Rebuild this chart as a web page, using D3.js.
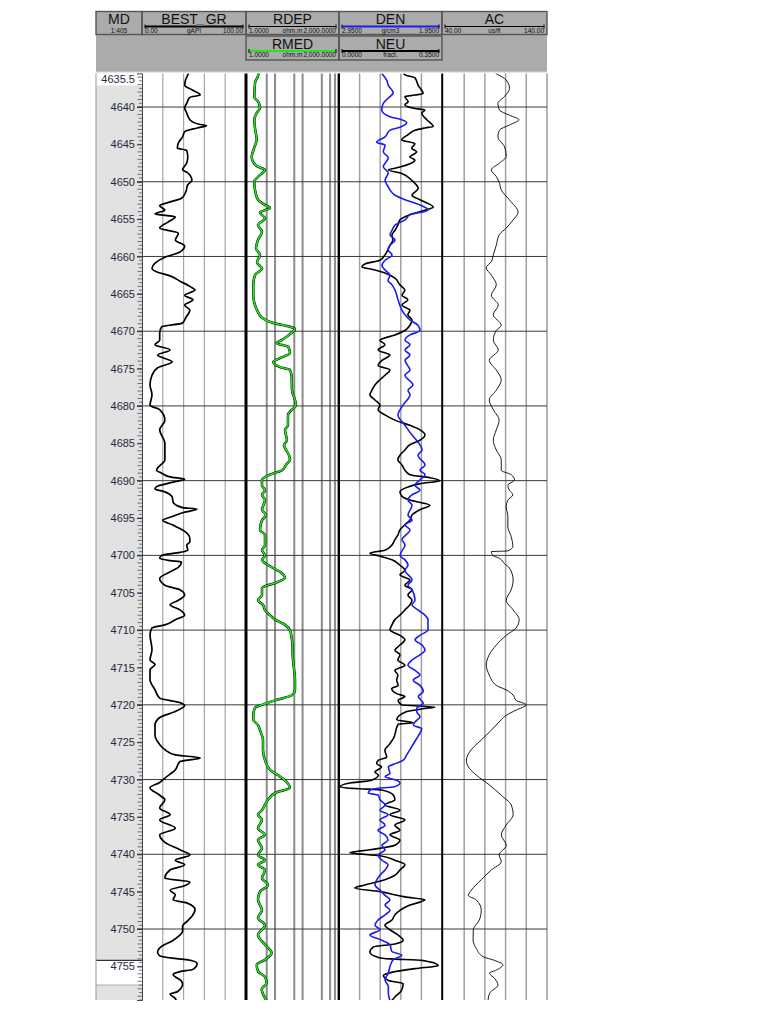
<!DOCTYPE html>
<html>
<head>
<meta charset="utf-8">
<script src="https://cdn.jsdelivr.net/npm/d3@7"></script>
<style>
  body { margin: 0; background: #fff; }
  svg { display: block; }
  text { font-family: "Liberation Sans", Arial, sans-serif; }
</style>
</head>
<body>
<svg id="LogPlot" width="768" height="1024"></svg>
<script>
// depth window and labels
const depthRange = [4635.5, 4759.5];
const mdLabels = [4640, 4645, 4650, 4655, 4660, 4665, 4670, 4675, 4680, 4685, 4690, 4695,
    4700, 4705, 4710, 4715, 4720, 4725, 4730, 4735, 4740, 4745, 4750, 4755];
const majorDepths = [4640, 4650, 4660, 4670, 4680, 4690, 4700, 4710, 4720, 4730, 4740, 4750];

// grid values per track
const grGrid = [20, 40, 60, 80];
const resGrid = [5, 10, 50, 100, 500, 1000, 1500];
const denGrid = [2.75, 2.55, 2.35, 2.15];
const acGrid = [60, 80, 100, 120];

// curves: [depth ft, value]
const grCurve = [[4635.5,45],[4635.7,44],[4637.1,41],[4637.7,48],[4638.4,56],[4638.7,46],[4639.5,43],[4640.1,41],[4640.8,43],[4641.7,46],[4642.3,55],[4642.5,62],[4642.8,53],[4643.3,41],[4644.0,39],[4644.8,35],[4645.5,34],[4645.8,43],[4646.7,44],[4647.5,43],[4648.4,39],[4648.8,44],[4649.8,48],[4650.4,44],[4651.4,42],[4652.2,38],[4652.7,27],[4653.2,17],[4653.8,22],[4654.3,12.5],[4654.7,32],[4655.4,25],[4656.2,17],[4656.9,35],[4657.8,32],[4658.6,41],[4659.4,36.5],[4660.1,22],[4660.9,12.5],[4661.6,9.6],[4662.1,15],[4662.6,27],[4663.3,36.5],[4664.0,46],[4664.5,51],[4665.2,41],[4665.8,49],[4666.5,41],[4667.2,46],[4668.2,42],[4668.9,39],[4669.4,19],[4670.2,17],[4671.2,17],[4671.8,12.5],[4672.5,27],[4673.2,15],[4674.1,29],[4674.9,15],[4675.9,9.6],[4677.2,7.7],[4678.5,9.6],[4679.9,7.7],[4680.5,17],[4681.9,22],[4683.2,17],[4685.0,22],[4687.2,22],[4688.6,14],[4689.0,19],[4689.5,27],[4689.8,41],[4690.2,30],[4690.8,14],[4691.1,12.5],[4691.5,22],[4692.2,29],[4692.9,30],[4693.6,39],[4693.8,53],[4694.3,39],[4694.8,29],[4695.3,20],[4695.9,29],[4696.6,39],[4697.0,43],[4697.7,46],[4698.2,46],[4698.6,43],[4699.3,44],[4699.6,36.5],[4700.0,19],[4700.4,17],[4700.7,27],[4700.9,38],[4701.6,35],[4702.0,30],[4703.1,17],[4704.0,22],[4704.6,36.5],[4705.3,41],[4706.0,35],[4706.6,27],[4707.3,36.5],[4708.0,41],[4708.6,32],[4709.3,22],[4709.7,9.6],[4710.6,7.7],[4712.6,9.6],[4714.0,7.7],[4714.6,12.5],[4715.3,7.7],[4716.6,7.7],[4718.0,12.5],[4719.1,17],[4719.7,36.5],[4720.1,41],[4720.9,32],[4721.7,17],[4722.7,12.5],[4724.0,12.5],[4725.3,17],[4726.0,22],[4726.7,32],[4727.1,56],[4727.6,36.5],[4728.7,32],[4729.8,22],[4730.4,17],[4731.1,7.7],[4732.1,17],[4732.7,22],[4733.8,17],[4734.7,27],[4735.4,17],[4736.5,32],[4737.4,17],[4738.4,22],[4739.4,36.5],[4740.1,46],[4740.8,32],[4741.4,41],[4742.1,27],[4743.2,22],[4743.7,46],[4744.2,41],[4744.8,27],[4745.4,32],[4746.1,30],[4746.5,43],[4747.4,51],[4748.3,48],[4749.0,43],[4749.6,39],[4750.3,39],[4751.0,35],[4751.6,29],[4752.3,19],[4753.1,15],[4753.6,17],[4753.9,29],[4754.1,43],[4754.6,53],[4755.4,49],[4755.7,36.5],[4756.1,30],[4757.0,38],[4757.4,39],[4758.4,34],[4758.7,27],[4759.3,32],[4759.6,33]];

// RMED (RDEP reads the same, drawn underneath in black)
const resCurve = [[4635.5,2.5],[4635.7,2.47],[4636.8,1.87],[4638.7,1.77],[4639.3,2.47],[4640.1,2.84],[4640.8,2.16],[4641.7,1.77],[4642.8,1.87],[4644.4,2.16],[4645.4,1.77],[4646.7,1.42],[4647.4,1.62],[4648.0,2.47],[4648.4,4.32],[4649.1,2.84],[4650.0,1.77],[4651.1,1.87],[4652.4,2.40],[4653.1,4.32],[4653.5,6.56],[4654.1,2.84],[4654.9,4.32],[4655.8,2.40],[4656.7,3.36],[4657.8,2.40],[4658.9,2.03],[4659.8,2.84],[4660.8,2.21],[4661.6,3.36],[4662.5,1.87],[4663.8,1.62],[4665.2,1.62],[4666.5,1.87],[4667.4,2.40],[4668.2,3.36],[4668.9,8.64],[4669.4,34.9],[4669.7,53.0],[4670.2,40.2],[4671.2,17.4],[4671.6,11.5],[4672.1,30.3],[4672.9,34.9],[4673.6,15.1],[4674.1,8.64],[4674.8,15.1],[4675.2,34.9],[4676.1,40.2],[4677.9,41.2],[4679.2,53.0],[4679.9,57.5],[4680.5,41.2],[4681.2,29.5],[4682.6,29.5],[4683.2,23.0],[4684.6,27.1],[4685.2,21.1],[4686.6,32.1],[4687.2,34.9],[4687.9,25.0],[4688.6,17.9],[4689.2,6.56],[4689.9,3.36],[4690.6,3.36],[4691.3,4.32],[4691.9,3.36],[4692.6,4.32],[4693.9,3.36],[4694.6,4.69],[4695.3,3.36],[4696.6,2.84],[4697.3,4.32],[4698.6,4.32],[4699.3,3.36],[4700.0,4.32],[4700.6,3.36],[4701.3,5.55],[4702.2,15.1],[4703.0,23.0],[4703.6,11.5],[4704.4,3.36],[4705.3,3.36],[4706.0,2.40],[4706.6,3.65],[4707.3,4.32],[4708.0,6.56],[4708.6,10],[4709.3,23.0],[4710.0,34.9],[4711.3,41.2],[4714.0,44.8],[4716.7,53.0],[4718.0,53.0],[4718.7,41.2],[4719.4,10],[4720.0,3.36],[4720.4,1.87],[4721.4,1.62],[4722.0,1.62],[4722.7,2.40],[4723.4,2.84],[4724.7,3.65],[4726.0,3.65],[4727.4,4.32],[4728.7,6.56],[4729.4,12.8],[4730.1,23.0],[4731.1,34.9],[4731.7,11.5],[4732.7,5.55],[4734.1,3.36],[4734.7,2.40],[4735.4,3.36],[4736.5,2.40],[4737.4,4.32],[4738.1,2.40],[4739.2,3.36],[4740.1,2.40],[4740.8,4.32],[4741.4,2.40],[4742.1,4.32],[4743.2,3.36],[4744.1,5.55],[4745.0,2.84],[4746.1,2.40],[4747.5,3.36],[4748.5,2.40],[4749.5,4.32],[4750.8,2.40],[4752.1,4.32],[4753.2,7.56],[4754.1,4.32],[4754.8,2.16],[4755.7,2.47],[4756.4,4.32],[4757.2,4.97],[4758.1,3.28],[4758.8,3.74],[4759.6,4.97]];

const denCurve = [[4635.5,2.535],[4636.4,2.487],[4637.1,2.471],[4638.1,2.423],[4638.8,2.471],[4639.5,2.520],[4640.4,2.535],[4641.3,2.455],[4641.7,2.341],[4642.1,2.293],[4642.7,2.358],[4643.1,2.455],[4644.0,2.503],[4644.7,2.584],[4645.1,2.503],[4646.0,2.520],[4646.8,2.471],[4648.0,2.520],[4648.8,2.471],[4649.8,2.503],[4650.7,2.471],[4651.1,2.455],[4651.8,2.406],[4652.4,2.309],[4653.1,2.164],[4653.8,2.086],[4654.4,2.261],[4655.1,2.309],[4655.8,2.406],[4656.5,2.435],[4657.1,2.455],[4657.8,2.406],[4658.5,2.455],[4659.1,2.474],[4659.8,2.435],[4660.5,2.503],[4661.2,2.533],[4661.8,2.503],[4662.5,2.455],[4663.2,2.474],[4663.8,2.435],[4664.5,2.406],[4665.8,2.377],[4667.2,2.338],[4667.8,2.309],[4668.5,2.261],[4669.2,2.183],[4669.9,2.164],[4670.5,2.261],[4671.2,2.309],[4671.8,2.261],[4672.5,2.309],[4673.2,2.261],[4673.9,2.309],[4675.2,2.261],[4675.9,2.309],[4677.2,2.232],[4677.9,2.280],[4678.5,2.261],[4679.9,2.329],[4681.2,2.377],[4682.6,2.309],[4683.9,2.241],[4685.2,2.164],[4685.9,2.144],[4686.6,2.183],[4687.9,2.115],[4688.6,2.164],[4689.2,2.115],[4689.9,2.164],[4690.6,2.212],[4691.3,2.164],[4691.9,2.241],[4692.6,2.280],[4693.3,2.241],[4694.6,2.280],[4695.3,2.241],[4695.9,2.309],[4696.6,2.261],[4697.9,2.338],[4698.6,2.309],[4700.0,2.358],[4700.6,2.309],[4701.3,2.280],[4702.0,2.309],[4703.3,2.241],[4704.0,2.280],[4704.6,2.241],[4706.0,2.212],[4706.6,2.241],[4707.3,2.183],[4708.0,2.115],[4708.6,2.086],[4710.0,2.086],[4710.7,2.164],[4711.3,2.212],[4712.0,2.144],[4712.7,2.115],[4713.3,2.164],[4714.0,2.241],[4714.7,2.280],[4715.4,2.212],[4716.0,2.164],[4716.7,2.229],[4717.4,2.164],[4718.2,2.132],[4718.9,2.180],[4719.8,2.132],[4720.5,2.196],[4720.9,2.196],[4721.6,2.164],[4722.3,2.212],[4722.7,2.229],[4723.2,2.147],[4723.8,2.164],[4724.5,2.196],[4725.6,2.244],[4726.7,2.293],[4727.4,2.326],[4727.8,2.390],[4728.3,2.471],[4729.2,2.455],[4729.6,2.503],[4730.1,2.390],[4730.5,2.358],[4731.0,2.423],[4731.1,2.520],[4731.4,2.649],[4731.8,2.666],[4732.1,2.568],[4732.7,2.552],[4733.4,2.503],[4734.1,2.552],[4734.7,2.474],[4735.4,2.552],[4736.1,2.503],[4736.8,2.571],[4737.4,2.503],[4738.1,2.474],[4738.8,2.533],[4739.4,2.503],[4740.1,2.571],[4740.8,2.533],[4741.4,2.474],[4742.1,2.503],[4742.8,2.552],[4744.1,2.600],[4744.8,2.552],[4745.5,2.503],[4746.1,2.455],[4746.8,2.503],[4747.5,2.455],[4748.1,2.503],[4748.8,2.571],[4749.5,2.600],[4750.1,2.552],[4750.8,2.649],[4751.5,2.535],[4752.1,2.455],[4753.0,2.438],[4753.5,2.341],[4754.1,2.423],[4755.0,2.455],[4755.9,2.471],[4756.8,2.503],[4757.7,2.471],[4758.6,2.471],[4759.6,2.455]];

const neuCurve = [[4635.5,0.22],[4635.7,0.224],[4636.1,0.258],[4637.1,0.269],[4638.2,0.286],[4638.4,0.258],[4638.6,0.224],[4639.3,0.235],[4639.7,0.224],[4640.2,0.258],[4640.4,0.292],[4640.8,0.281],[4641.7,0.298],[4642.6,0.320],[4642.8,0.292],[4643.1,0.258],[4643.7,0.235],[4644.4,0.213],[4644.9,0.258],[4645.5,0.247],[4646.0,0.264],[4646.7,0.241],[4647.1,0.258],[4647.5,0.247],[4648.2,0.190],[4648.4,0.168],[4648.9,0.213],[4649.8,0.247],[4650.9,0.269],[4651.8,0.248],[4652.4,0.275],[4653.4,0.320],[4653.8,0.292],[4654.4,0.241],[4655.1,0.207],[4655.8,0.200],[4656.5,0.190],[4657.1,0.180],[4657.8,0.183],[4658.5,0.173],[4659.1,0.166],[4659.8,0.156],[4660.5,0.139],[4661.0,0.088],[4661.4,0.078],[4661.8,0.122],[4662.2,0.156],[4662.9,0.190],[4663.8,0.207],[4664.5,0.224],[4665.2,0.214],[4665.8,0.234],[4666.5,0.214],[4667.2,0.241],[4667.8,0.234],[4668.5,0.248],[4669.2,0.241],[4669.9,0.224],[4670.5,0.190],[4671.2,0.139],[4671.8,0.156],[4672.5,0.133],[4673.2,0.173],[4673.9,0.146],[4674.6,0.133],[4675.2,0.173],[4675.9,0.156],[4676.5,0.139],[4677.2,0.122],[4677.9,0.112],[4678.5,0.105],[4679.2,0.122],[4679.9,0.139],[4680.5,0.133],[4681.2,0.156],[4681.9,0.190],[4682.6,0.241],[4683.2,0.275],[4683.9,0.292],[4684.6,0.275],[4685.2,0.241],[4685.9,0.224],[4686.6,0.207],[4687.2,0.200],[4687.9,0.214],[4688.6,0.224],[4689.2,0.241],[4689.6,0.309],[4690.0,0.343],[4690.4,0.275],[4691.0,0.224],[4691.5,0.207],[4692.1,0.214],[4692.6,0.241],[4693.3,0.309],[4693.9,0.275],[4694.6,0.248],[4695.3,0.241],[4695.9,0.224],[4696.6,0.207],[4697.3,0.200],[4697.9,0.190],[4698.6,0.180],[4699.3,0.156],[4699.7,0.105],[4700.1,0.139],[4700.6,0.180],[4701.3,0.207],[4702.0,0.224],[4702.6,0.207],[4703.3,0.241],[4704.0,0.224],[4704.6,0.248],[4705.3,0.234],[4706.0,0.248],[4706.6,0.241],[4707.3,0.224],[4708.0,0.207],[4708.6,0.190],[4709.3,0.180],[4710.0,0.173],[4710.7,0.207],[4711.3,0.224],[4712.0,0.207],[4712.7,0.190],[4713.3,0.207],[4714.0,0.200],[4714.7,0.224],[4715.4,0.190],[4716.0,0.200],[4716.7,0.196],[4717.4,0.201],[4717.8,0.179],[4718.5,0.196],[4718.9,0.224],[4719.4,0.201],[4720.0,0.213],[4720.3,0.326],[4720.5,0.292],[4720.9,0.230],[4722.0,0.196],[4722.4,0.252],[4722.6,0.201],[4724.5,0.185],[4725.2,0.173],[4726.1,0.156],[4727.0,0.162],[4727.4,0.134],[4727.9,0.128],[4728.3,0.145],[4729.0,0.122],[4729.4,0.134],[4730.1,0.111],[4730.5,0.032],[4731.0,0.003],[4731.2,0.054],[4731.4,0.145],[4732.1,0.185],[4732.7,0.190],[4733.4,0.156],[4734.1,0.207],[4734.7,0.173],[4735.4,0.224],[4736.1,0.190],[4736.8,0.207],[4737.4,0.173],[4738.1,0.207],[4738.8,0.190],[4739.4,0.105],[4739.8,0.037],[4740.2,0.139],[4740.8,0.190],[4741.4,0.224],[4742.1,0.207],[4742.8,0.190],[4743.4,0.156],[4744.1,0.088],[4744.5,0.054],[4745.0,0.139],[4745.7,0.224],[4746.1,0.292],[4746.8,0.241],[4747.5,0.207],[4748.1,0.190],[4748.8,0.180],[4749.5,0.156],[4750.1,0.173],[4750.8,0.200],[4751.5,0.218],[4752.0,0.190],[4752.4,0.117],[4753.1,0.105],[4753.8,0.134],[4754.0,0.173],[4754.2,0.281],[4754.9,0.337],[4755.3,0.258],[4755.8,0.179],[4756.2,0.151],[4756.9,0.168],[4757.3,0.218],[4758.2,0.213],[4759.1,0.190],[4759.6,0.179]];

const acCurve = [[4635.5,90.3],[4636.4,100.6],[4637.5,103.8],[4638.6,98.9],[4639.5,92.6],[4640.4,94.1],[4641.1,103.8],[4641.7,112.8],[4642.4,103.8],[4643.1,94.1],[4644.0,92.6],[4645.3,98.9],[4646.6,100.6],[4647.5,94.1],[4648.4,86.2],[4649.3,91.0],[4650.2,94.1],[4651.1,95.8],[4652.4,103.5],[4654.1,112.1],[4655.1,107.3],[4656.2,100.6],[4657.1,93.8],[4658.5,91.0],[4659.8,88.1],[4660.7,86.2],[4661.5,81.3],[4662.5,86.2],[4663.8,91.0],[4665.2,86.2],[4666.5,92.9],[4667.8,88.1],[4669.2,95.8],[4669.9,91.0],[4671.2,88.1],[4672.5,92.9],[4673.9,84.2],[4675.2,91.0],[4676.5,95.8],[4677.9,91.0],[4679.2,84.2],[4680.5,88.1],[4681.9,93.8],[4683.2,91.0],[4684.6,88.1],[4685.9,91.0],[4687.2,95.8],[4688.6,95.8],[4689.2,105.4],[4689.9,108.6],[4690.6,102.2],[4691.3,103.8],[4691.9,107.0],[4692.6,102.2],[4693.5,100.6],[4694.8,102.2],[4696.2,102.2],[4697.5,105.4],[4698.8,107.0],[4699.4,102.2],[4699.5,86.2],[4700.0,87.8],[4700.4,94.1],[4701.1,98.9],[4701.7,103.8],[4703.3,107.3],[4704.6,105.4],[4706.0,100.6],[4707.3,107.3],[4708.6,113.1],[4709.7,110.2],[4710.7,100.6],[4712.0,91.0],[4713.3,84.2],[4714.7,81.3],[4716.0,84.2],[4717.4,91.0],[4718.0,100.6],[4718.7,107.3],[4719.4,110.2],[4720.0,119.8],[4720.7,110.2],[4721.4,100.6],[4722.0,95.8],[4723.4,86.2],[4724.7,76.5],[4726.0,66.9],[4727.4,62.1],[4728.5,65.0],[4729.4,71.7],[4730.7,84.2],[4732.1,95.8],[4733.4,105.4],[4734.7,107.3],[4736.1,100.6],[4737.4,95.8],[4738.8,100.6],[4740.1,93.8],[4741.0,95.8],[4742.1,86.2],[4743.4,76.5],[4744.8,66.9],[4745.5,64.0],[4746.1,71.7],[4747.5,76.5],[4748.8,74.6],[4750.1,68.8],[4751.5,68.6],[4752.6,71.7],[4753.7,78.2],[4754.2,89.3],[4754.8,97.4],[4755.5,91.0],[4755.9,84.5],[4756.6,89.3],[4757.5,92.6],[4758.6,84.5],[4759.6,83.0]];

const svg = d3.select("#LogPlot");
const plotTop = 73.4, plotBottom = 1000;
const y = d3.scaleLinear().domain(depthRange).range([plotTop, plotBottom]);

const xGR = d3.scaleLinear().domain([0, 100]).range([142, 246]);
const xRes = d3.scaleLog().domain([1, 2000]).range([247.5, 338.4]);
const xDen = d3.scaleLinear().domain([2.95, 1.95]).range([339, 442]);
const xNeu = d3.scaleLinear().domain([0, 0.35]).range([339, 442]);
const xAC = d3.scaleLinear().domain([40, 140]).range([443.5, 547]);

// background of the depth track
svg.append("rect").attr("x", 96).attr("y", plotTop).attr("width", 46).attr("height", plotBottom - plotTop).attr("fill", "#e2e2e2");
svg.append("rect").attr("x", 96).attr("y", plotTop).attr("width", 46).attr("height", 12).attr("fill", "#fff");
svg.append("rect").attr("x", 96).attr("y", y(4754.2)).attr("width", 46).attr("height", y(4757.5) - y(4754.2)).attr("fill", "#fff");
svg.append("line").attr("x1", 96).attr("x2", 142).attr("y1", y(4754.2)).attr("y2", y(4754.2)).attr("stroke", "#333").attr("stroke-width", 1.2);
svg.append("line").attr("x1", 96).attr("x2", 142).attr("y1", y(4757.5)).attr("y2", y(4757.5)).attr("stroke", "#aaa");

const grid = svg.append("g");
function vgrid(xs, color, w) {
    grid.append("g").selectAll("line").data(xs).join("line")
        .attr("x1", d => d).attr("x2", d => d)
        .attr("y1", plotTop).attr("y2", plotBottom)
        .attr("stroke", color).attr("stroke-width", w);
}
vgrid(grGrid.map(xGR), "#a6a6a6", 1.2);
vgrid(resGrid.map(xRes), "#8c8c8c", 2);
vgrid(denGrid.map(xDen), "#a0a0a0", 1.5);
vgrid(acGrid.map(xAC), "#a0a0a0", 1.5);
vgrid([547], "#9a9a9a", 1.5);

grid.append("g").selectAll("line").data(majorDepths).join("line")
    .attr("x1", 137).attr("x2", 547)
    .attr("y1", d => y(d)).attr("y2", d => y(d))
    .attr("stroke", "#3a3a3a").attr("stroke-width", 1);

// depth ticks
const minor = d3.range(4636, 4759.6, 0.5);
svg.append("g").selectAll("line").data(minor).join("line")
    .attr("x1", d => (d % 1 === 0 ? 137.5 : 139)).attr("x2", 142)
    .attr("y1", d => y(d)).attr("y2", d => y(d))
    .attr("stroke", "#555").attr("stroke-width", 0.8);

const mdAxis = svg.append("g").attr("transform", "translate(142,0)")
    .call(d3.axisLeft(y).tickValues(mdLabels).tickSize(5).tickPadding(2).tickFormat(d3.format("d")));
mdAxis.select(".domain").attr("stroke", "#444");
mdAxis.selectAll("line").attr("stroke", "#333");
mdAxis.selectAll("text").attr("fill", "#1f2b40").style("font-size", "11px");
svg.append("text").attr("x", 135).attr("y", y(depthRange[0]) + 10).attr("text-anchor", "end")
    .attr("fill", "#1f2b40").style("font-size", "11px").text("4635.5");

// curves
const defs = svg.append("defs");
function track(id, x0, x1) {
    defs.append("clipPath").attr("id", id).append("rect")
        .attr("x", x0).attr("y", plotTop).attr("width", x1 - x0).attr("height", plotBottom - plotTop);
    return svg.append("g").attr("clip-path", `url(#${id})`);
}
function curve(g, data, xs, color, w) {
    g.append("path").datum(data)
        .attr("fill", "none").attr("stroke", color).attr("stroke-width", w)
        .attr("stroke-linejoin", "round")
        .attr("d", d3.line().x(d => xs(d[1])).y(d => y(d[0])).curve(d3.curveMonotoneY));
}
const gGR = track("cGR", 142, 246);
curve(gGR, grCurve, xGR, "#000", 1.7);
const gRes = track("cRes", 246, 339);
curve(gRes, resCurve, xRes, "#000", 2.5);   // RDEP
curve(gRes, resCurve, xRes, "#1ee81a", 1.6); // RMED
const gDen = track("cDen", 339, 442);
curve(gDen, neuCurve, xNeu, "#000", 1.6);
curve(gDen, denCurve, xDen, "#1c1cf0", 1.6);
const gAC = track("cAC", 442, 547);
curve(gAC, acCurve, xAC, "#000", 0.9);

// track borders
[[246, 3], [338.8, 2.4], [442.2, 2]].forEach(([x, w]) => {
    svg.append("line").attr("x1", x).attr("x2", x).attr("y1", plotTop).attr("y2", plotBottom)
        .attr("stroke", "#000").attr("stroke-width", w);
});
svg.append("line").attr("x1", 96).attr("x2", 96).attr("y1", plotTop).attr("y2", plotBottom).attr("stroke", "#999");

// header
const head = svg.append("g");
head.append("rect").attr("x", 96).attr("y", 11).attr("width", 451).attr("height", 61).attr("fill", "#ababab");
head.append("line").attr("x1", 96).attr("x2", 547).attr("y1", 72).attr("y2", 72).attr("stroke", "#d0d0d0");

const cells = [
    {name: "MD", x0: 96, x1: 142, row: 0, mid: "1:405"},
    {name: "BEST_GR", x0: 142, x1: 246, row: 0, left: "0.00", mid: "gAPI", right: "100.00", color: "#000"},
    {name: "RDEP", x0: 246, x1: 339, row: 0, left: "1.0000", mid: "ohm.m", right: "2,000.0000", color: "#000", thin: true},
    {name: "DEN", x0: 339, x1: 442, row: 0, left: "2.9500", mid: "g/cm3", right: "1.9500", color: "#1c1cf0"},
    {name: "AC", x0: 442, x1: 547, row: 0, left: "40.00", mid: "us/ft", right: "140.00", color: "#000", thin: true},
    {name: "RMED", x0: 246, x1: 339, row: 1, left: "1.0000", mid: "ohm.m", right: "2,000.0000", color: "#1ee81a"},
    {name: "NEU", x0: 339, x1: 442, row: 1, left: "0.0000", mid: "fract.", right: "0.3500", color: "#000"}
];
cells.forEach(c => {
    const y0 = c.row === 0 ? 11.5 : 36;
    const h = c.row === 0 ? 23 : 24;
    const g = head.append("g");
    g.append("rect").attr("x", c.x0).attr("y", y0).attr("width", c.x1 - c.x0).attr("height", h)
        .attr("fill", "none").attr("stroke", "#555").attr("stroke-width", 1.4);
    g.append("text").attr("x", (c.x0 + c.x1) / 2).attr("y", y0 + 12.5).attr("text-anchor", "middle")
        .attr("fill", "#111").style("font-size", "14px").text(c.name);
    const ly = y0 + 15;
    if (c.color) {
        g.append("line").attr("x1", c.x0 + 3).attr("x2", c.x1 - 3).attr("y1", ly).attr("y2", ly)
            .attr("stroke", c.color).attr("stroke-width", c.thin ? 1 : 2);
        [c.x0 + 3, c.x1 - 3].forEach(x => g.append("line").attr("x1", x).attr("x2", x)
            .attr("y1", ly - 2).attr("y2", ly + 2).attr("stroke", "#000").attr("stroke-width", 1));
    }
    if (c.name === "BEST_GR") {
        g.append("rect").attr("x", 196).attr("y", ly - 2.5).attr("width", 8).attr("height", 2).attr("fill", "#777");
    }
    const ty = y0 + 21;
    const fs = "6.5px";
    if (c.left) g.append("text").attr("x", c.x0 + 3).attr("y", ty).style("font-size", fs).attr("fill", "#111").text(c.left);
    if (c.right) g.append("text").attr("x", c.x1 - 3).attr("y", ty).attr("text-anchor", "end").style("font-size", fs).attr("fill", "#111").text(c.right);
    g.append("text").attr("x", (c.x0 + c.x1) / 2).attr("y", ty).attr("text-anchor", "middle").style("font-size", fs).attr("fill", "#111").text(c.mid);
});
</script>
</body>
</html>
